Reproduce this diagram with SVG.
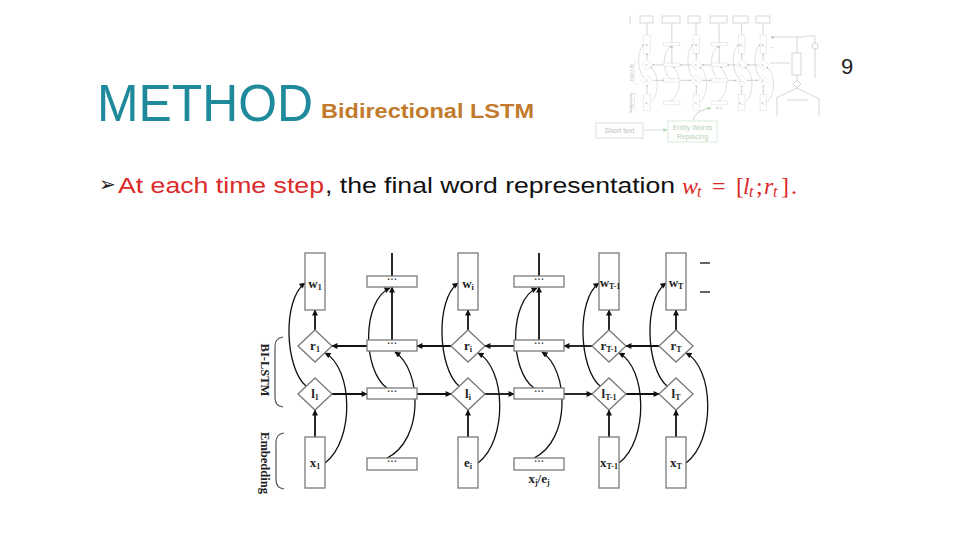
<svg xmlns="http://www.w3.org/2000/svg" xmlns:xlink="http://www.w3.org/1999/xlink" width="960" height="540" viewBox="0 0 960 540">
<defs>
<marker id="ah" viewBox="0 0 10 10" refX="9" refY="5" markerWidth="7" markerHeight="6" markerUnits="userSpaceOnUse" orient="auto"><path d="M0,0 L10,5 L0,10 z" fill="#111"/></marker>
<marker id="ahg" viewBox="0 0 10 10" refX="9" refY="5" markerWidth="4" markerHeight="4" markerUnits="userSpaceOnUse" orient="auto"><path d="M0,0 L10,5 L0,10 z" fill="#b9d9b9"/></marker>
<marker id="ahl" viewBox="0 0 10 10" refX="9" refY="5" markerWidth="3" markerHeight="3" markerUnits="userSpaceOnUse" orient="auto"><path d="M0,0 L10,5 L0,10 z" fill="#c4c4c4"/></marker>
<style>
.box{fill:#fff;stroke:#7a7a7a;stroke-width:1.3}
.dia{fill:#fff;stroke:#7a7a7a;stroke-width:1.3}
.lbl{font-family:"Liberation Serif",serif;font-weight:bold;font-size:13px;fill:#222;text-anchor:middle}
.sub{font-size:8px}
.dots{font-family:"Liberation Serif",serif;font-weight:bold;font-size:10px;fill:#444;text-anchor:middle}
.st{stroke:#111;stroke-width:1.8;fill:none;marker-end:url(#ah)}
.ln{stroke:#111;stroke-width:1.8;fill:none}
.cv{stroke:#111;stroke-width:1.3;fill:none;marker-end:url(#ah)}
.side{font-family:"Liberation Serif",serif;font-weight:bold;font-size:12.5px;fill:#222;text-anchor:middle}
.br{stroke:#555;stroke-width:1.2;fill:none}
.th{stroke:#c6c6c6;stroke-width:0.7;fill:none}
.m{font-family:"Liberation Serif",serif;font-size:24px;fill:#dc2a2a}
.mi{font-style:italic}
.ms{font-style:italic;font-size:16px}
</style>
</defs>
<rect width="960" height="540" fill="#fff"/>

<!-- Title -->
<text x="97" y="121" font-family="Liberation Sans, Arial, sans-serif" font-size="51" fill="#1f8a9c" textLength="216" lengthAdjust="spacingAndGlyphs">METHOD</text>
<text x="321" y="118" font-family="Liberation Sans, Arial, sans-serif" font-size="21" font-weight="bold" fill="#c27a2c" textLength="213" lengthAdjust="spacingAndGlyphs">Bidirectional LSTM</text>
<text x="847" y="74" font-family="Liberation Sans, Arial, sans-serif" font-size="22" fill="#222" text-anchor="middle">9</text>

<!-- Bullet -->
<text x="99" y="191" font-family="DejaVu Sans, sans-serif" font-size="20" fill="#222">➢</text>
<text x="118" y="193" font-family="Liberation Sans, Arial, sans-serif" font-size="22" fill="#dc2a2a" textLength="206" lengthAdjust="spacingAndGlyphs">At each time step</text>
<text x="325" y="193" font-family="Liberation Sans, Arial, sans-serif" font-size="22" fill="#111" textLength="350" lengthAdjust="spacingAndGlyphs">, the final word representation</text>
<text class="m" y="194"><tspan class="mi" x="682">w</tspan><tspan class="ms" x="697" dy="3">t</tspan><tspan x="712" dy="-3">=</tspan><tspan x="736">[</tspan><tspan class="mi" x="743">l</tspan><tspan class="ms" x="749" dy="3">t</tspan><tspan x="756" dy="-3">;</tspan><tspan class="mi" x="764">r</tspan><tspan class="ms" x="773" dy="3">t</tspan><tspan x="781" dy="-3">]</tspan><tspan x="791">.</tspan></text>

<!-- Main diagram -->
<g id="diagram">
  <g id="side-labels">
    <text class="side" transform="translate(261,370) rotate(90)">BI-LSTM</text>
    <path class="br" d="M283,337 Q275,338 275,346 L275,398 Q275,406 283,407"/>
    <text class="side" transform="translate(261,463) rotate(90)">Embedding</text>
    <path class="br" d="M284,433 Q276,434 276,442 L276,480 Q276,488 284,489"/>
  </g>

  <g id="connectors">
    <path class="st" d="M659,346 L626,346"/>
    <path class="st" d="M592,346 L564,346"/>
    <path class="st" d="M514,346 L485,346"/>
    <path class="st" d="M451,346 L417,346"/>
    <path class="st" d="M367,346 L332,346"/>
    <path class="st" d="M332,394 L367,394"/>
    <path class="st" d="M417,394 L451,394"/>
    <path class="st" d="M485,394 L514,394"/>
    <path class="st" d="M564,394 L592,394"/>
    <path class="st" d="M626,394 L659,394"/>
    <path class="st" d="M315,437 L315,410"/><path class="st" d="M315,330 L315,310"/>
    <path class="st" d="M468,437 L468,410"/><path class="st" d="M468,330 L468,310"/>
    <path class="st" d="M609,437 L609,410"/><path class="st" d="M609,330 L609,310"/>
    <path class="st" d="M676,437 L676,410"/><path class="st" d="M676,330 L676,310"/>
    <path class="st" d="M392,340 L392,287"/><path class="ln" d="M392,253 L392,276"/>
    <path class="st" d="M539,340 L539,287"/><path class="ln" d="M539,253 L539,276"/>
    <path class="cv" d="M306,386 C285,368 282,300 305,283"/>
    <path class="cv" d="M459,386 C438,368 435,300 458,283"/>
    <path class="cv" d="M600,386 C579,368 576,300 599,283"/>
    <path class="cv" d="M667,386 C646,368 643,300 666,283"/>
    <path class="cv" d="M325,463 C355,440 353,368 325,353"/>
    <path class="cv" d="M478,463 C508,440 506,368 478,353"/>
    <path class="cv" d="M619,463 C649,440 647,368 619,353"/>
    <path class="cv" d="M686,463 C716,440 714,368 686,353"/>
    <path class="cv" d="M387,388 C362,370 362,300 390,288"/>
    <path class="cv" d="M387,458 C424,440 422,370 395,352"/>
    <path class="cv" d="M534,388 C509,370 509,300 537,288"/>
    <path class="cv" d="M534,458 C571,440 569,370 542,352"/>
  </g>

  <g id="w1"><rect class="box" x="305" y="253" width="20" height="57"/><text class="lbl" x="315" y="288">w<tspan class="sub" dy="2">1</tspan></text></g>
  <g id="r1"><polygon class="dia" points="298,346 315,330 332,346 315,362"/><text class="lbl" x="315" y="350">r<tspan class="sub" dy="2">1</tspan></text></g>
  <g id="l1"><polygon class="dia" points="298,394 315,378 332,394 315,410"/><text class="lbl" x="315" y="398">l<tspan class="sub" dy="2">1</tspan></text></g>
  <g id="x1"><rect class="box" x="305" y="437" width="20" height="51"/><text class="lbl" x="315" y="467">x<tspan class="sub" dy="2">1</tspan></text></g>

  <g id="dots2-top"><rect class="box" x="367" y="276" width="50" height="11"/><text class="dots" x="392" y="283">···</text></g>
  <g id="dots2-r"><rect class="box" x="367" y="340" width="50" height="11"/><text class="dots" x="392" y="347">···</text></g>
  <g id="dots2-l"><rect class="box" x="367" y="388" width="50" height="11"/><text class="dots" x="392" y="395">···</text></g>
  <g id="dots2-x"><rect class="box" x="367" y="458" width="50" height="12"/><text class="dots" x="392" y="465">···</text></g>

  <g id="wi"><rect class="box" x="458" y="253" width="20" height="57"/><text class="lbl" x="468" y="288">w<tspan class="sub" dy="2">i</tspan></text></g>
  <g id="ri"><polygon class="dia" points="451,346 468,330 485,346 468,362"/><text class="lbl" x="468" y="350">r<tspan class="sub" dy="2">i</tspan></text></g>
  <g id="li"><polygon class="dia" points="451,394 468,378 485,394 468,410"/><text class="lbl" x="468" y="398">l<tspan class="sub" dy="2">i</tspan></text></g>
  <g id="ei"><rect class="box" x="458" y="437" width="20" height="51"/><text class="lbl" x="468" y="467">e<tspan class="sub" dy="2">i</tspan></text></g>

  <g id="dots4-top"><rect class="box" x="514" y="276" width="50" height="11"/><text class="dots" x="539" y="283">···</text></g>
  <g id="dots4-r"><rect class="box" x="514" y="340" width="50" height="11"/><text class="dots" x="539" y="347">···</text></g>
  <g id="dots4-l"><rect class="box" x="514" y="388" width="50" height="11"/><text class="dots" x="539" y="395">···</text></g>
  <g id="dots4-x"><rect class="box" x="514" y="458" width="50" height="12"/><text class="dots" x="539" y="465">···</text><text class="lbl" x="539" y="483">x<tspan class="sub" dy="2">j</tspan><tspan dy="-2">/e</tspan><tspan class="sub" dy="2">j</tspan></text></g>

  <g id="wT-1"><rect class="box" x="599" y="253" width="20" height="57"/><text class="lbl" x="610" y="287">w<tspan class="sub" dy="2">T-1</tspan></text></g>
  <g id="rT-1"><polygon class="dia" points="592,346 609,330 626,346 609,362"/><text class="lbl" x="609" y="350">r<tspan class="sub" dy="2">T-1</tspan></text></g>
  <g id="lT-1"><polygon class="dia" points="592,394 609,378 626,394 609,410"/><text class="lbl" x="609" y="398">l<tspan class="sub" dy="2">T-1</tspan></text></g>
  <g id="xT-1"><rect class="box" x="599" y="437" width="20" height="51"/><text class="lbl" x="609" y="467">x<tspan class="sub" dy="2">T-1</tspan></text></g>

  <g id="wT"><rect class="box" x="666" y="253" width="20" height="57"/><text class="lbl" x="676" y="287">w<tspan class="sub" dy="2">T</tspan></text></g>
  <g id="rT"><polygon class="dia" points="659,346 676,330 693,346 676,362"/><text class="lbl" x="676" y="350">r<tspan class="sub" dy="2">T</tspan></text></g>
  <g id="lT"><polygon class="dia" points="659,394 676,378 693,394 676,410"/><text class="lbl" x="676" y="398">l<tspan class="sub" dy="2">T</tspan></text></g>
  <g id="xT"><rect class="box" x="666" y="437" width="20" height="51"/><text class="lbl" x="676" y="467">x<tspan class="sub" dy="2">T</tspan></text></g>

  <g id="legend-dashes">
    <path d="M700,263 L710,263 M700,292 L710,292" stroke="#333" stroke-width="1.5"/>
  </g>
</g>

<!-- Faded thumbnail (top right) -->
<g id="thumbnail">
  <use xlink:href="#diagram" href="#diagram" transform="translate(545.6,-46.5) scale(0.322)" opacity="0.3"/>
  <g class="th">
    <rect x="640" y="16" width="13" height="7"/>
    <rect x="662" y="16" width="18" height="7"/>
    <rect x="688" y="16" width="12" height="7"/>
    <rect x="710" y="16" width="17" height="7"/>
    <rect x="733" y="16" width="15" height="7"/>
    <rect x="756" y="16" width="14" height="7"/>
    <path d="M647,23 V35 M671.8,23 V35 M696,23 V35 M719,23 V35 M741.7,23 V35 M763,23 V35"/>
    <path d="M630,16 V24"/>
    <path d="M790,37 H771" marker-end="url(#ahl)"/>
    <path d="M790,37 H805 M806,36 H815 V43"/>
    <circle cx="815" cy="46" r="3"/>
    <path d="M815,49 V78 M797,37 V53"/>
    <rect x="792" y="53" width="9" height="22"/>
    <path d="M797,75 V80 M797,80 L801,84 L797,88 L793,84 Z"/>
    <path d="M797,88 L776,98 M797,88 L819,99 M777,98 V116 M819,99 V116 M787,100 H808 M770,63 H790"/>
  </g>
  <g id="short-text">
    <rect x="596" y="123" width="47" height="15" fill="none" stroke="#d6d6d6" stroke-width="0.8"/>
    <text x="619.5" y="133" font-family="Liberation Sans, Arial, sans-serif" font-size="7" fill="#bdbdbd" text-anchor="middle">Short text</text>
  </g>
  <g id="entity-words">
    <rect x="668" y="121" width="49" height="21" fill="none" stroke="#cfe6cf" stroke-width="0.8"/>
    <text x="692.5" y="130" font-family="Liberation Sans, Arial, sans-serif" font-size="7" fill="#b8d2b8" text-anchor="middle">Entity Words</text>
    <text x="692.5" y="139" font-family="Liberation Sans, Arial, sans-serif" font-size="7" fill="#b8d2b8" text-anchor="middle">Replacing</text>
  </g>
  <path d="M644,130 H667" stroke="#c9dcc9" stroke-width="0.8" fill="none" marker-end="url(#ahg)"/>
  <path d="M693,120 Q696,110 711,108" stroke="#b9d9b9" stroke-width="0.9" fill="none" marker-end="url(#ahg)"/>
</g>
</svg>
